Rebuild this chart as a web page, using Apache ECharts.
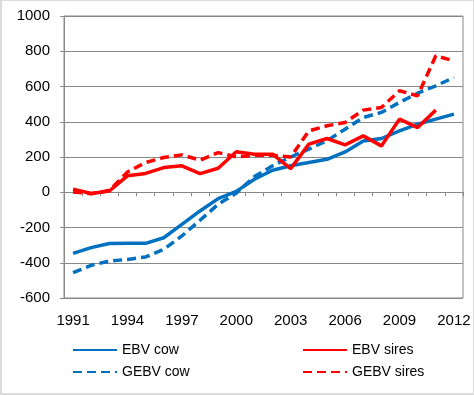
<!DOCTYPE html>
<html>
<head>
<meta charset="utf-8">
<script src="https://cdn.jsdelivr.net/npm/echarts@6/dist/echarts.min.js"></script>
<style>
html,body{margin:0;padding:0;background:#fff;}
#chart{width:474px;height:395px;}
</style>
</head>
<body>
<div id="chart"></div>
<script>
const years = ['1991','1992','1993','1994','1995','1996','1997','1998','1999','2000','2001','2002','2003','2004','2005','2006','2007','2008','2009','2010','2011','2012'];
const ebvCow = [-347,-314,-291,-290,-290,-258,-182,-106,-36,5,74,125,150,169,187,229,291,305,348,386,415,443];
const gebvCow = [-456,-415,-390,-381,-367,-324,-248,-159,-68,-5,89,150,200,245,292,358,424,453,510,562,604,651];
const ebvSires = [18,-7,7,93,107,140,150,106,136,230,216,216,134,273,305,269,320,263,415,367,466,null];
const gebvSires = [2,-8,10,115,169,197,212,182,225,200,210,210,200,348,377,396,466,481,576,547,774,746];
const seriesNames = ['EBV cow','GEBV cow','EBV sires','GEBV sires'];

const blue = '#0070C0';
const red = '#FF0000';
const grid = '#888888';
const font = 'Liberation Sans, Arial, sans-serif';

const chart = echarts.init(document.getElementById('chart'), null, {renderer:'canvas'});

function mkLine(name, data, color, dashed){
  return {
    name: name, type: 'line', data: data, xAxisIndex: 0,
    symbol: 'none', showSymbol: false, smooth: false, connectNulls: false,
    lineStyle: {color: color, width: 3.5, type: dashed ? [9,5] : 'solid', cap: 'butt'},
    itemStyle: {color: color},
    emphasis: {disabled: true}, animation: false
  };
}
function mkLegend(name, left, top){
  return {
    data: [name], left: left, top: top, padding: 0, itemWidth: 44, itemHeight: 14,
    itemGap: 0, selectedMode: false,
    itemStyle: {opacity: 0, borderWidth: 0},
    textStyle: {fontFamily: font, fontSize: 14, color: '#000'}
  };
}

chart.setOption({
  backgroundColor: '#dcdcdc',
  animation: false,
  graphic: [{type:'rect', shape:{x:2,y:1,width:471,height:392}, style:{fill:'#fff'}, z:-10, silent:true}],
  grid: {left: 64, right: 11, top: 16, bottom: 97, show: true, borderColor: grid, borderWidth: 1, backgroundColor: 'transparent'},
  legend: [
    mkLegend(seriesNames[0], 72, 343),
    mkLegend(seriesNames[1], 72, 365),
    mkLegend(seriesNames[2], 302, 343),
    mkLegend(seriesNames[3], 302, 365)
  ],
  xAxis: [
    {type:'category', data: years, boundaryGap: true, position:'bottom',
     axisLine:{show:false, onZero:false}, axisTick:{show:false},
     axisLabel:{interval:2, margin:15, fontFamily:font, fontSize:15, color:'#000'},
     splitLine:{show:false}},
    {type:'category', data: years, boundaryGap: true, position:'bottom',
     axisLine:{show:true, onZero:true, lineStyle:{color:grid, width:1}},
     axisTick:{show:true, interval:0, length:4, lineStyle:{color:grid}},
     axisLabel:{show:false}, splitLine:{show:false}}
  ],
  yAxis: {type:'value', min:-600, max:1000, interval:200,
    axisLine:{show:true, lineStyle:{color:grid, width:1}},
    axisTick:{show:true, length:4, lineStyle:{color:grid}},
    axisLabel:{margin:14, fontFamily:font, fontSize:15, color:'#000', formatter: function(v){ return String(v); }},
    splitLine:{show:true, lineStyle:{color:grid, width:1}}},
  series: [
    mkLine(seriesNames[0], ebvCow, blue, false),
    mkLine(seriesNames[1], gebvCow, blue, true),
    mkLine(seriesNames[2], ebvSires, red, false),
    mkLine(seriesNames[3], gebvSires, red, true)
  ]
});
</script>
</body>
</html>
